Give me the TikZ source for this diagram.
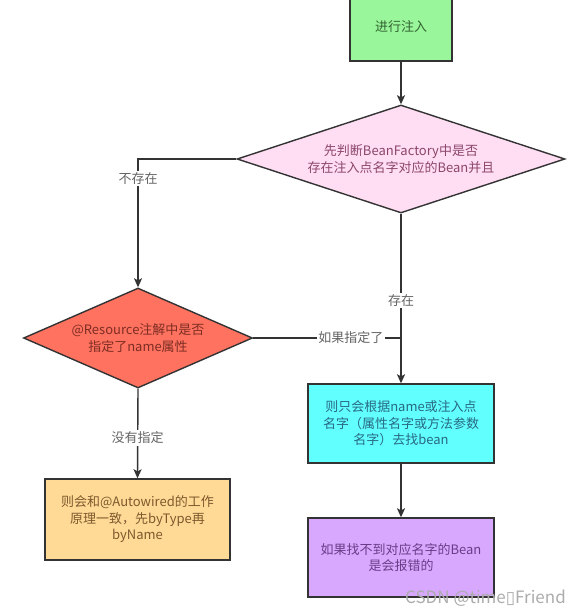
\documentclass[tikz,border=0pt]{standalone}
\usepackage{fontspec}
\setmainfont{Noto Sans CJK SC}
\usetikzlibrary{shapes.geometric,arrows.meta}
\definecolor{cgreen}{RGB}{154,246,154}
\definecolor{cpink}{RGB}{255,222,244}
\definecolor{ctomato}{RGB}{255,114,96}
\definecolor{ccyan}{RGB}{98,255,255}
\definecolor{corange}{RGB}{255,217,150}
\definecolor{cpurple}{RGB}{216,168,255}
\definecolor{cline}{RGB}{51,51,51}
\definecolor{clabel}{RGB}{100,100,100}
\tikzset{
  base/.style={draw=cline, line width=1.4pt, align=center, inner sep=0pt, font=\fontsize{13}{16.5}\selectfont},
  boxn/.style={base, rectangle, minimum width=186pt, minimum height=80pt},
  decn/.style={base, diamond},
  conn/.style={draw=cline, line width=1.4pt, -{Stealth[length=9pt,width=8pt,inset=2pt]}},
  plainconn/.style={draw=cline, line width=1.4pt},
  lab/.style={fill=white, text=clabel, inner sep=1.5pt, font=\fontsize{13}{15}\selectfont},
}
\begin{document}
\begin{tikzpicture}[x=1pt,y=-1pt]
\useasboundingbox (0,0) rectangle (580,615);
\clip (0,0) rectangle (580,615);
\fill[white] (0,0) rectangle (580,615);

\node[boxn, fill=cgreen, text={rgb,255:red,50;green,100;blue,50}, minimum width=102pt, minimum height=68pt] (start) at (401,27) {进行注入};

\node[decn, fill=cpink, text={rgb,255:red,140;green,70;blue,105}, minimum width=328pt, minimum height=108pt, aspect=3.04] (d1) at (401,159)
  {先判断BeanFactory中是否\\存在注入点名字对应的Bean并且};

\node[decn, fill=ctomato, text={rgb,255:red,125;green,45;blue,35}, minimum width=229pt, minimum height=100pt, aspect=2.29] (d2) at (138,338)
  {@Resource注解中是否\\指定了name属性};

\node[boxn, fill=ccyan, text={rgb,255:red,40;green,105;blue,130}, minimum height=79pt] (byname) at (401,423.5)
  {则只会根据name或注入点\\名字（属性名字或方法参数\\名字）去找bean};

\node[boxn, fill=cpurple, text={rgb,255:red,105;green,60;blue,135}, minimum height=79pt] (err) at (401,557.5)
  {如果找不到对应名字的Bean\\是会报错的};

\node[boxn, fill=corange, text={rgb,255:red,125;green,90;blue,45}, minimum width=185pt, minimum height=81pt] (auto) at (137.5,519.5)
  {则会和@Autowired的工作\\原理一致，先byType再\\byName};

\coordinate (c1) at (138,159);
\coordinate (join) at (401,338);

\draw[conn] (start) -- (d1);
\draw[conn] (d1.west) -- (c1) -- node[lab, pos=0.15] {不存在} (d2.north);
\draw[plainconn] (d1.south) -- node[lab, pos=0.7] {存在} (join);
\draw[conn] (join) -- (byname.north);
\draw[plainconn] (d2.east) -- node[lab, pos=0.66] {如果指定了} (join);
\draw[conn] (d2.south) -- node[lab, pos=0.55] {没有指定} (auto.north);
\draw[conn] (byname) -- (err);

\node[text=gray!65, font=\fontsize{17}{19}\selectfont, anchor=east, inner sep=0pt] (wm) at (566,598) {CSDN @time{\fontspec{DejaVu Sans}▯}Friend};
\end{tikzpicture}
\end{document}
